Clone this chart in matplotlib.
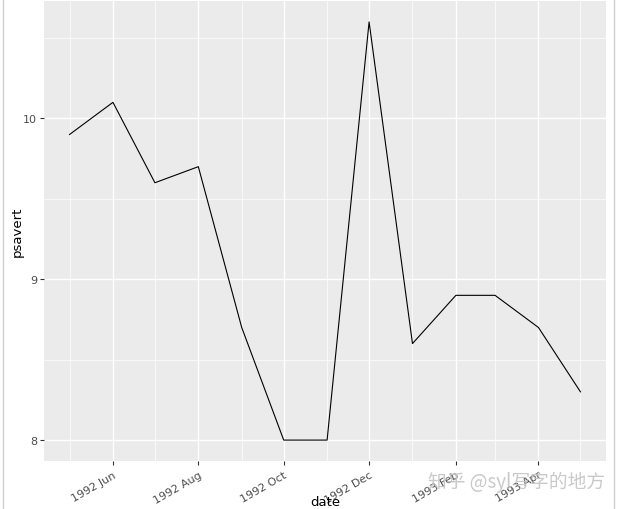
import matplotlib
matplotlib.use("Agg")
import matplotlib.pyplot as plt
import matplotlib.dates as mdates
from matplotlib.lines import Line2D
import numpy as np
import pandas as pd

# données (economics$psavert, mai 1992 - mai 1993)
dates = pd.date_range("1992-05-01", "1993-05-01", freq="MS")
psavert = [9.9, 10.1, 9.6, 9.7, 8.7, 8.0, 8.0, 10.6, 8.6, 8.9, 8.9, 8.7, 8.3]
tick_dates = pd.to_datetime(["1992-06-01", "1992-08-01", "1992-10-01",
                             "1992-12-01", "1993-02-01", "1993-04-01"])
tick_labels = ["1992 Jun", "1992 Aug", "1992 Oct", "1992 Dec", "1993 Feb", "1993 Apr"]
minor_dates = pd.to_datetime(["1992-05-01", "1992-07-01", "1992-09-01", "1992-11-01",
                              "1993-01-01", "1993-03-01", "1993-05-01"])

W, H = 621, 510
fig = plt.figure(figsize=(W / 100, H / 100), dpi=100)
ax = fig.add_axes([44 / W, (H - 462) / H, (606 - 44) / W, (462 - 2) / H])

ax.set_facecolor("#EBEBEB")
for s in ax.spines.values():
    s.set_visible(False)

x = mdates.date2num(dates)
ax.plot(x, psavert, color="black", lw=0.8)

# échelles (expansion 5% comme ggplot)
span = x[-1] - x[0]
ax.set_xlim(x[0] - 0.05 * span, x[-1] + 0.05 * span)
yr = max(psavert) - min(psavert)
ax.set_ylim(min(psavert) - 0.05 * yr, max(psavert) + 0.05 * yr)

ax.set_xticks(mdates.date2num(tick_dates))
ax.set_xticklabels(tick_labels, rotation=30, ha="right", rotation_mode="anchor")
ax.set_xticks(mdates.date2num(minor_dates), minor=True)
ax.set_yticks([8, 9, 10])
ax.set_yticks([8.5, 9.5, 10.5], minor=True)

ax.grid(which="major", color="white", lw=1.0)
ax.grid(which="minor", color="white", lw=0.5)
ax.set_axisbelow(True)

ax.tick_params(which="major", length=3, width=0.8, color="#333333",
               labelcolor="#4D4D4D", labelsize=8, pad=2)
ax.tick_params(axis="x", which="major", pad=3)
ax.tick_params(which="minor", length=0)

ax.set_ylabel("psavert", fontsize=9.5, color="black")
ax.yaxis.set_label_coords(-20 / 562, 0.5)
ax.set_xlabel("date", fontsize=9.5, color="black")
ax.xaxis.set_label_coords(0.5, -34 / 460)
ax.xaxis.label.set_va("top")

# filigrane
fig.text(428 / W, 1 - 482 / H, "知乎 @syl写字的地方", fontsize=13.5,
         color="#C4C4C4", alpha=0.9, va="center", ha="left",
         family=["Noto Sans CJK SC", "DejaVu Sans"])

# bordures de la capture d'écran
fig.add_artist(Line2D([2.5 / W, 2.5 / W], [0, 1], color="#D0D0D0", lw=1))
fig.add_artist(Line2D([613.5 / W, 613.5 / W], [0, 1], color="#D0D0D0", lw=1))

fig.savefig("out.png", dpi=100)
